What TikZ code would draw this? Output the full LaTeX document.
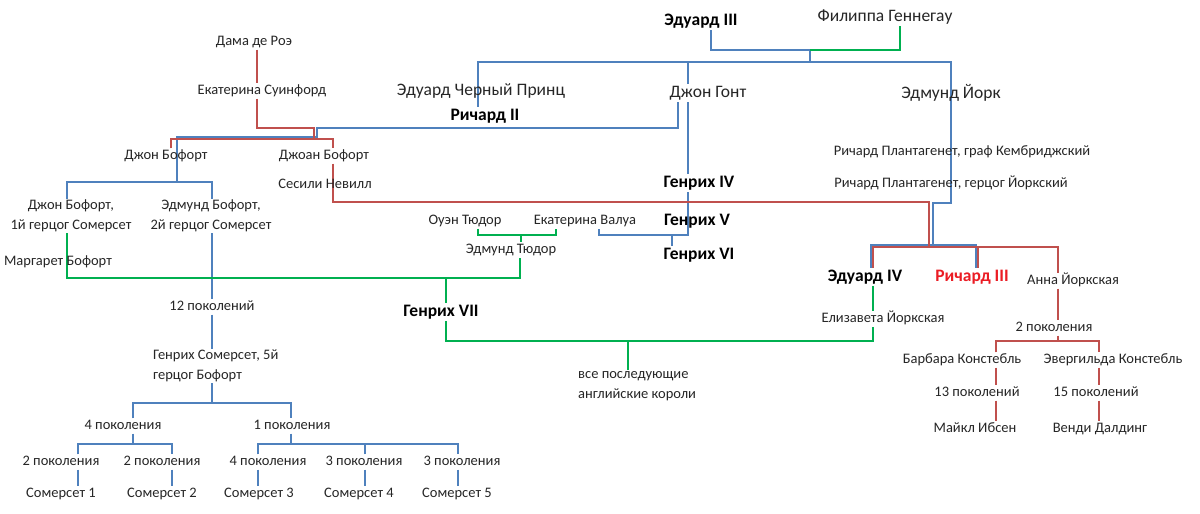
\documentclass[tikz,border=0pt]{standalone}
\usepackage{fontspec}
\setmainfont{Carlito}
\usetikzlibrary{backgrounds}
\definecolor{treeblue}{RGB}{79,129,189}
\definecolor{treered}{RGB}{192,80,77}
\definecolor{treegreen}{RGB}{0,176,80}
\definecolor{kingred}{RGB}{235,28,36}
\definecolor{nametext}{RGB}{38,38,38}
\newcommand{\namesize}{\fontsize{14.5}{20}\selectfont}
\newcommand{\titlesize}{\fontsize{17.5}{21}\selectfont}
\tikzset{
  person/.style={font=\namesize, text=nametext, inner sep=1pt,
    text height=10pt, text depth=3pt},
  twoline/.style={font=\namesize, text=nametext, inner sep=1pt, align=center},
  elder/.style={font=\titlesize, text=nametext, inner sep=1pt,
    text height=12.5pt, text depth=3.5pt},
  monarch/.style={elder, font=\titlesize\bfseries, text=black},
  blueline/.style={draw=treeblue, line width=1.6pt},
  redline/.style={draw=treered, line width=1.6pt},
  greenline/.style={draw=treegreen, line width=1.6pt}
}

\begin{document}
\begin{tikzpicture}[x=1pt, y=-1pt]
  \useasboundingbox (0,0) rectangle (1200,514);

  % Plantagenets
  \node[monarch] (edw3) at (701,21) {Эдуард III};
  \node[elder] (philippa) at (885,17) {Филиппа Геннегау};
  \node[elder] (blackprince) at (481,91) {Эдуард Черный Принц};
  \node[monarch] (rich2) at (485,116) {Ричард II};
  \node[elder] (gaunt) at (708,93) {Джон Гонт};
  \node[elder] (york) at (951,94) {Эдмунд Йорк};
  \node[person] (cambridge) at (962,152) {Ричард Плантагенет, граф Кембриджский};
  \node[person] (rdyork) at (951,184) {Ричард Плантагенет, герцог Йоркский};
  \node[monarch] (hen4) at (699,183) {Генрих IV};
  \node[monarch] (hen5) at (697,221) {Генрих V};
  \node[monarch] (hen6) at (699,255) {Генрих VI};

  % Swynford and Beauforts
  \node[person] (dama) at (254,42) {Дама де Роэ};
  \node[person] (swynford) at (262,91) {Екатерина Суинфорд};
  \node[person] (jbeaufort) at (166,156) {Джон Бофорт};
  \node[person] (joan) at (324,156) {Джоан Бофорт};
  \node[person] (cecily) at (325,185) {Сесили Невилл};
  \node[twoline] (somerset1) at (71,216) {Джон Бофорт,\\1й герцог Сомерсет};
  \node[twoline] (somerset2) at (211,216) {Эдмунд Бофорт,\\2й герцог Сомерсет};
  \node[person] (margaret) at (58,262) {Маргарет Бофорт};
  \node[person] (gen12) at (212,307) {12 поколений};
  \node[twoline, align=left, anchor=west] (henrysom) at (152,366)
    {Генрих Сомерсет, 5й\\герцог Бофорт};
  \node[person] (gen4a) at (123,426) {4 поколения};
  \node[person] (gen1) at (292,426) {1 поколения};
  \node[person] (gen2a) at (61,462) {2 поколения};
  \node[person] (gen2b) at (162,462) {2 поколения};
  \node[person] (gen4b) at (268,462) {4 поколения};
  \node[person] (gen3a) at (364,462) {3 поколения};
  \node[person] (gen3b) at (462,462) {3 поколения};
  \node[person] (heir1) at (61,494) {Сомерсет 1};
  \node[person] (heir2) at (162,494) {Сомерсет 2};
  \node[person] (heir3) at (259,494) {Сомерсет 3};
  \node[person] (heir4) at (359,494) {Сомерсет 4};
  \node[person] (heir5) at (457,494) {Сомерсет 5};

  % Tudors
  \node[person] (owen) at (465,221) {Оуэн Тюдор};
  \node[person] (valois) at (585,221) {Екатерина Валуа};
  \node[person] (edtudor) at (511,250) {Эдмунд Тюдор};
  \node[monarch] (hen7) at (441,312) {Генрих VII};
  \node[twoline, align=left, anchor=west] (kings) at (577,386)
    {все последующие\\английские короли};

  % Yorks
  \node[monarch] (edw4) at (865,277) {Эдуард IV};
  \node[monarch, text=kingred] (rich3) at (972,277) {Ричард III};
  \node[person] (anne) at (1073,281) {Анна Йоркская};
  \node[person] (elizabeth) at (883,319) {Елизавета Йоркская};
  \node[person] (gen2c) at (1054,328) {2 поколения};
  \node[person] (barbara) at (962,360) {Барбара Констебль};
  \node[person] (evergilda) at (1113,360) {Эвергильда Констебль};
  \node[person] (gen13) at (977,393) {13 поколений};
  \node[person] (gen15) at (1096,393) {15 поколений};
  \node[person] (ibsen) at (975,429) {Майкл Ибсен};
  \node[person] (dalding) at (1100,429) {Венди Далдинг};

  \begin{scope}[on background layer]
    \fill[white] (0,0) rectangle (1200,514);

    % Edward III and Philippa
    \coordinate (wed) at (810,50);
    \coordinate (sons) at (810,62);
    \draw[blueline] ([xshift=10pt]edw3.south) |- (wed) -- (sons);
    \draw[greenline] ([xshift=15pt]philippa.south) |- (wed);
    \draw[blueline] ([xshift=-7pt]rich2.north) |- (sons) -| (york.north);
    \draw[blueline] (sons) -| ([xshift=-20pt]gaunt.north);

    % York line
    \coordinate (yorkturn) at (933,203);
    \coordinate (yorkkids) at (933,245);
    \draw[blueline] (york.north) -- (york.north |- yorkturn) -| (yorkkids);
    \draw[blueline] ([xshift=6pt]edw4.north) |- (yorkkids) -| ([xshift=4pt]rich3.north);

    % Lancaster line
    \draw[blueline] ([xshift=-20pt]gaunt.south) -- ([xshift=-20pt]gaunt.south |- hen4.north);
    \coordinate (lancwed) at (672,235);
    \draw[blueline] ([xshift=-11pt]hen4.south) |- (lancwed) -| ([xshift=14pt]valois.south);
    \draw[blueline] (lancwed) -- (lancwed |- hen6.north);

    % Gaunt and Swynford children
    \coordinate (beaublue) at (317,137);
    \coordinate (beaukids) at (177,182);
    \draw[blueline] ([xshift=-30pt]gaunt.south) |- ([yshift=9pt]beaublue) -- (beaublue) -| (beaukids);
    \draw[blueline] ([xshift=-4pt]somerset1.north) |- (beaukids) -| ([xshift=1pt]somerset2.north);
    \coordinate (beaured) at (314,139);
    \draw[redline] ([xshift=3pt]dama.south) -- ([xshift=3pt]dama.south |- swynford.north);
    \draw[redline] ([xshift=-5pt]swynford.south) |- ([yshift=11pt]beaured) -- (beaured);
    \draw[redline] ([xshift=5pt]jbeaufort.north) |- (beaured) -| ([xshift=9pt]joan.north);

    % Joan, Cecily and the York children
    \coordinate (cecturn) at (929,202);
    \coordinate (yorkred) at (929,247);
    \draw[redline] ([xshift=9pt]joan.south) |- (cecturn) -- (yorkred);
    \draw[redline] ([xshift=8pt]edw4.north) |- (yorkred) -| ([xshift=-15pt]anne.north);
    \draw[redline] ([xshift=6pt]rich3.north) -- ([xshift=6pt]rich3.north |- yorkred);

    % Somerset descendants
    \draw[blueline] ([xshift=1pt]somerset2.south) -- ([xshift=1pt]somerset2.south |- gen12.north);
    \draw[blueline] (gen12.south) -- (gen12.south |- henrysom.north);
    \coordinate (hsj) at (212,403);
    \draw[blueline] (hsj |- henrysom.south) -- (hsj);
    \draw[blueline] ([xshift=10pt]gen4a.north) |- (hsj) -| ([xshift=-1pt]gen1.north);
    \coordinate (g4j) at (133,444);
    \coordinate (g1j) at (291,444);
    \draw[blueline] (g4j |- gen4a.south) -- (g4j);
    \draw[blueline] ([xshift=17pt]gen2a.north) |- (g4j) -| ([xshift=10pt]gen2b.north);
    \draw[blueline] (g1j |- gen1.south) -- (g1j);
    \draw[blueline] ([xshift=-10pt]gen4b.north) |- (g1j) -| ([xshift=-4pt]gen3b.north);
    \draw[blueline] ([xshift=1pt]gen3a.north) -- ([xshift=1pt]gen3a.north |- g1j);
    \foreach \g/\h/\d in {gen2a/heir1/17, gen2b/heir2/10, gen4b/heir3/-10, gen3a/heir4/1, gen3b/heir5/-4}
      \draw[blueline] ([xshift=\d pt]\g.south) -- ([xshift=\d pt]\g.south |- \h.north);

    % Tudors
    \coordinate (tudwed) at (521,235);
    \draw[greenline] ([xshift=13pt]owen.south) |- (tudwed) -| ([xshift=-29pt]valois.south);
    \draw[greenline] (tudwed) -- (tudwed |- edtudor.north);
    \coordinate (h7j) at (446,278);
    \draw[greenline] ([xshift=-4pt]somerset1.south) |- (h7j) -| ([xshift=9pt]edtudor.south);
    \draw[greenline] (h7j) -- (h7j |- hen7.north);
    \coordinate (kingsj) at (628,341);
    \draw[greenline] ([xshift=5pt]hen7.south) |- (kingsj) -| ([xshift=-10pt]elizabeth.south);
    \draw[greenline] (kingsj) -- (kingsj |- kings.north);
    \draw[greenline] ([xshift=8pt]edw4.south) -- ([xshift=8pt]edw4.south |- elizabeth.north);

    % Anne of York descendants
    \draw[redline] ([xshift=-15pt]anne.south) -- ([xshift=-15pt]anne.south |- gen2c.north);
    \coordinate (annej) at (1058,341);
    \draw[redline] (annej |- gen2c.south) -- (annej);
    \draw[redline] ([xshift=34pt]barbara.north) |- (annej) -| ([xshift=-14pt]evergilda.north);
    \draw[redline] ([xshift=34pt]barbara.south) -- ([xshift=34pt]barbara.south |- gen13.north);
    \draw[redline] ([xshift=19pt]gen13.south) -- ([xshift=19pt]gen13.south |- ibsen.north);
    \draw[redline] ([xshift=-14pt]evergilda.south) -- ([xshift=-14pt]evergilda.south |- gen15.north);
    \draw[redline] ([xshift=3pt]gen15.south) -- ([xshift=3pt]gen15.south |- dalding.north);
  \end{scope}
\end{tikzpicture}
\end{document}
